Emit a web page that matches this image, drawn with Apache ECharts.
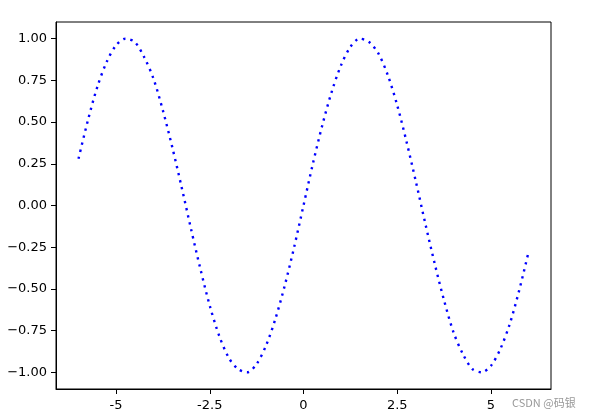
<!DOCTYPE html>
<html><head><meta charset="utf-8">
<script src="https://cdn.jsdelivr.net/npm/echarts@6/dist/echarts.min.js"></script>
<style>html,body{margin:0;padding:0;background:#fff}#c{width:596px;height:419px}</style>
</head><body><div id="c"></div>
<script>
var xValues = [-6,-5.75,-5.5,-5.25,-5,-4.75,-4.5,-4.25,-4,-3.75,-3.5,-3.25,-3,-2.75,-2.5,-2.25,-2,-1.75,-1.5,-1.25,-1,-0.75,-0.5,-0.25,0,0.25,0.5,0.75,1,1.25,1.5,1.75,2,2.25,2.5,2.75,3,3.25,3.5,3.75,4,4.25,4.5,4.75,5,5.25,5.5,5.75,6];
var yValues = [0.28,0.51,0.71,0.86,0.96,1.00,0.98,0.89,0.76,0.57,0.35,0.11,-0.14,-0.38,-0.60,-0.78,-0.91,-0.98,-1.00,-0.95,-0.84,-0.68,-0.48,-0.25,0.00,0.25,0.48,0.68,0.84,0.95,1.00,0.98,0.91,0.78,0.60,0.38,0.14,-0.11,-0.35,-0.57,-0.76,-0.89,-0.98,-1.00,-0.96,-0.86,-0.71,-0.51,-0.28];
var xTicks = [-5,-2.5,0,2.5,5];
var yTicks = [-1,-0.75,-0.5,-0.25,0,0.25,0.5,0.75,1];
var data = xValues.map(function(x,i){return [x,yValues[i]];});
var chart = echarts.init(document.getElementById('c'));
var font = 'DejaVu Sans';
chart.setOption({
  animation:false,
  grid:{left:56,right:45,top:22,bottom:30,show:true,borderColor:'#000',borderWidth:1},
  xAxis:{type:'value',min:-6.6,max:6.6,
    axisLine:{show:true,onZero:false,lineStyle:{color:'#000',width:1}},
    splitLine:{show:false},
    axisTick:{show:true,length:5,lineStyle:{color:'#000'},customValues:xTicks},
    axisLabel:{color:'#000',fontFamily:font,fontSize:13,margin:10,customValues:xTicks,
      formatter:function(v){return String(v);}}
  },
  yAxis:{type:'value',min:-1.1,max:1.1,
    axisLine:{show:true,onZero:false,lineStyle:{color:'#000',width:1}},
    splitLine:{show:false},
    axisTick:{show:true,length:5,lineStyle:{color:'#000'},customValues:yTicks},
    axisLabel:{color:'#000',fontFamily:font,fontSize:13,margin:9,customValues:yTicks,
      formatter:function(v){var s=Math.abs(v).toFixed(2);return (v<0?'\u2212':'')+s;}}
  },
  series:[{type:'line',data:data,smooth:0.3,showSymbol:false,
    lineStyle:{color:'#0000ff',width:2.4,type:[2.3,4.9],cap:'butt'}}],
  graphic:[{type:'text',left:512,top:397,style:{text:'CSDN @码银',fill:'#999',font:'11px "Noto Sans CJK SC", sans-serif'}}]
});
</script></body></html>
